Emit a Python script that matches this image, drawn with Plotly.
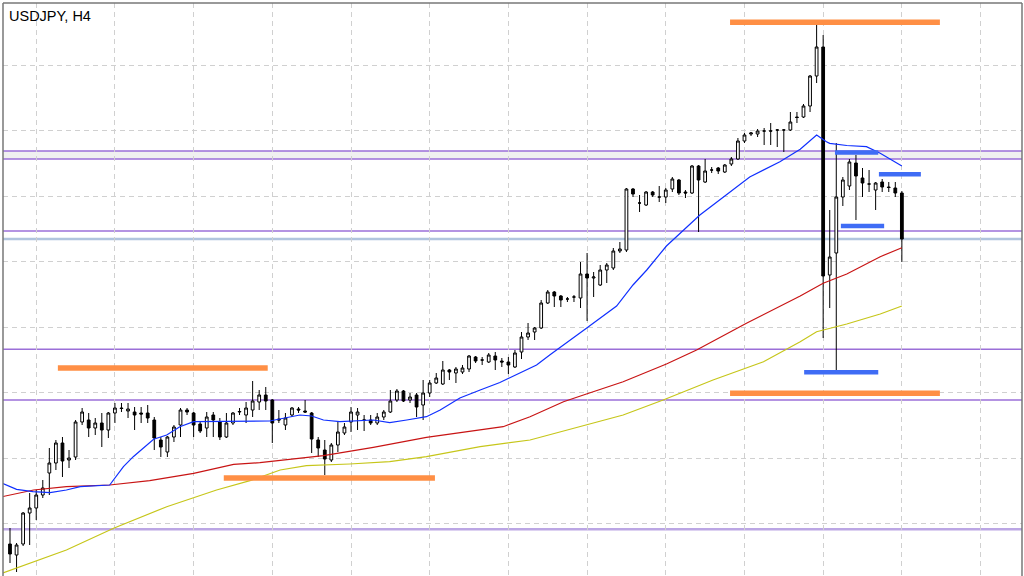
import plotly.graph_objects as go

# USDJPY H4 - ローソク足 (バー番号 0..136)
bar = list(range(137))
open_ = [145.56, 145.45, 145.56, 145.87, 145.92, 146.05, 146.27, 146.37, 146.57, 146.40,
         146.43, 146.78, 146.80, 146.72, 146.77, 146.70, 146.87, 146.92, 146.89, 146.88,
         146.87, 146.87, 146.80, 146.60, 146.48, 146.63, 146.75, 146.90, 146.87, 146.76,
         146.72, 146.85, 146.78, 146.63, 146.77, 146.88, 146.85, 146.90, 146.98, 147.05,
         147.00, 146.81, 146.75, 146.85, 146.91, 146.89, 146.87, 146.60, 146.50, 146.40,
         146.55, 146.67, 146.78, 146.85, 146.80, 146.80, 146.77, 146.83, 146.88, 147.00,
         147.09, 147.00, 147.05, 146.95, 147.07, 147.17, 147.16, 147.30, 147.27, 147.28,
         147.31, 147.43, 147.40, 147.38, 147.44, 147.39, 147.38, 147.33, 147.48, 147.63,
         147.68, 147.72, 147.97, 148.08, 148.04, 148.01, 148.03, 148.02, 148.26, 148.22,
         148.15, 148.30, 148.32, 148.49, 148.50, 149.11, 148.97, 148.95, 149.08, 149.03,
         149.03, 149.11, 149.20, 149.08, 149.07, 149.34, 149.18, 149.30, 149.32, 149.28,
         149.36, 149.41, 149.59, 149.66, 149.66, 149.69, 149.69, 149.70, 149.70, 149.70,
         149.83, 149.83, 149.94, 150.24, 150.53, 148.25, 148.47, 149.03, 149.14, 149.37,
         149.22, 149.16, 149.10, 149.18, 149.13, 149.12, 149.07]
high = [145.72, 145.57, 145.88, 146.07, 146.10, 146.20, 146.52, 146.60, 146.63, 146.50,
        146.80, 146.92, 146.87, 146.82, 146.87, 146.88, 146.97, 146.97, 146.97, 146.93,
        146.93, 146.95, 146.83, 146.63, 146.64, 146.75, 146.92, 146.92, 146.88, 146.78,
        146.88, 146.88, 146.82, 146.87, 146.88, 146.92, 146.98, 147.19, 147.10, 147.13,
        147.01, 146.90, 146.87, 146.93, 146.93, 147.00, 146.88, 146.63, 146.60, 146.57,
        146.78, 146.77, 146.93, 146.92, 146.85, 146.85, 146.87, 146.90, 147.10, 147.11,
        147.10, 147.07, 147.07, 147.20, 147.20, 147.27, 147.39, 147.31, 147.33, 147.35,
        147.45, 147.44, 147.43, 147.47, 147.48, 147.42, 147.43, 147.50, 147.68, 147.77,
        147.73, 148.00, 148.10, 148.09, 148.05, 148.03, 148.05, 148.38, 148.47, 148.28,
        148.35, 148.37, 148.52, 148.58, 149.12, 149.12, 149.05, 149.09, 149.09, 149.14,
        149.12, 149.23, 149.21, 149.10, 149.35, 149.35, 149.41, 149.33, 149.33, 149.36,
        149.43, 149.62, 149.67, 149.68, 149.71, 149.72, 149.77, 149.71, 149.71, 149.88,
        149.88, 149.96, 150.25, 150.75, 150.65, 148.90, 149.57, 149.23, 149.41, 149.45,
        149.32, 149.30, 149.18, 149.21, 149.18, 149.18, 149.09]
low = [145.37, 145.28, 145.54, 145.55, 145.80, 146.02, 146.05, 146.30, 146.23, 146.32,
       146.40, 146.75, 146.63, 146.65, 146.53, 146.62, 146.77, 146.88, 146.82, 146.70,
       146.77, 146.77, 146.50, 146.43, 146.43, 146.58, 146.63, 146.85, 146.63, 146.67,
       146.63, 146.63, 146.60, 146.62, 146.75, 146.85, 146.77, 146.83, 146.90, 146.90,
       146.57, 146.77, 146.70, 146.83, 146.87, 146.87, 146.47, 146.43, 146.25, 146.38,
       146.48, 146.65, 146.68, 146.70, 146.69, 146.75, 146.75, 146.80, 146.87, 146.98,
       146.98, 146.97, 146.83, 146.80, 147.03, 147.16, 147.15, 147.20, 147.17, 147.26,
       147.28, 147.37, 147.35, 147.37, 147.30, 147.33, 147.26, 147.32, 147.41, 147.60,
       147.60, 147.71, 147.96, 147.93, 147.93, 147.98, 147.98, 147.92, 147.79, 148.03,
       148.14, 148.17, 148.30, 148.47, 148.48, 149.03, 148.88, 148.94, 149.03, 148.98,
       148.97, 149.08, 149.05, 149.02, 149.06, 148.68, 149.17, 149.27, 149.26, 149.27,
       149.34, 149.40, 149.57, 149.64, 149.63, 149.55, 149.55, 149.53, 149.48, 149.69,
       149.77, 149.82, 149.88, 150.17, 147.62, 147.92, 147.30, 148.94, 149.10, 148.80,
       149.03, 149.08, 148.90, 149.08, 149.08, 149.03, 148.38]
close = [145.46, 145.55, 145.87, 145.92, 146.05, 146.12, 146.37, 146.57, 146.39, 146.42,
         146.78, 146.88, 146.72, 146.77, 146.70, 146.87, 146.92, 146.915, 146.91, 146.85,
         146.86, 146.82, 146.62, 146.53, 146.63, 146.73, 146.90, 146.88, 146.75, 146.69,
         146.83, 146.80, 146.63, 146.77, 146.87, 146.885, 146.92, 146.99, 147.05, 146.99,
         146.77, 146.80, 146.82, 146.92, 146.90, 146.88, 146.61, 146.52, 146.41, 146.55,
         146.68, 146.73, 146.88, 146.88, 146.80, 146.77, 146.83, 146.88, 146.99, 147.09,
         146.99, 147.03, 146.93, 147.07, 147.17, 147.22, 147.30, 147.28, 147.31, 147.32,
         147.44, 147.39, 147.40, 147.45, 147.40, 147.38, 147.35, 147.47, 147.63, 147.67,
         147.72, 147.97, 148.08, 148.04, 148.00, 148.01, 148.03, 148.26, 148.22, 148.23,
         148.30, 148.35, 148.49, 148.51, 149.11, 149.06, 148.97, 149.08, 149.05, 149.03,
         149.10, 149.21, 149.07, 149.07, 149.34, 149.20, 149.29, 149.30, 149.29, 149.35,
         149.41, 149.59, 149.65, 149.67, 149.69, 149.69, 149.69, 149.70, 149.70, 149.78,
         149.825, 149.94, 150.24, 150.53, 148.24, 148.43, 149.03, 149.20, 149.38, 149.24,
         149.17, 149.16, 149.17, 149.13, 149.125, 149.07, 148.61]

# 移動平均線
ma_fast_x = [-1.07, 1.0, 3.5, 6.1, 8.6, 10.7, 15.2, 16.0, 17.3, 18.8, 21.9, 23.9, 25.9, 28.0,
             31.5, 35.1, 39.6, 44.2, 46.0, 47.8, 50.3, 55.4, 57.9, 60.5, 63.5, 65.6, 68.6,
             71.7, 74.7, 80.3, 82.3, 87.9, 92.5, 95.0, 97.1, 100.1, 105.2, 112.8, 117.4,
             120.5, 123.0, 124.5, 125.0, 127.6, 130.6, 132.7, 136.0]
ma_fast_y = [146.165, 146.107, 146.083, 146.073, 146.10, 146.133, 146.15, 146.22, 146.333,
             146.433, 146.607, 146.65, 146.733, 146.783, 146.783, 146.79, 146.79, 146.85,
             146.84, 146.80, 146.783, 146.80, 146.773, 146.80, 146.833, 146.90, 147.02,
             147.10, 147.175, 147.35, 147.45, 147.717, 147.94, 148.15, 148.30, 148.54,
             148.85, 149.23, 149.383, 149.507, 149.65, 149.583, 149.567, 149.545, 149.533,
             149.467, 149.34]
ma_mid_x = [-1.07, 3.6, 8.6, 15.2, 21.3, 28.0, 34.1, 38.1, 47.8, 55.4, 63.5, 71.7, 75.2,
            79.3, 84.4, 87.9, 93.5, 100.1, 104.7, 112.3, 117.4, 120.5, 124.0, 127.6, 132.7, 136.0]
ma_mid_y = [146.035, 146.10, 146.133, 146.15, 146.193, 146.267, 146.357, 146.373, 146.443,
            146.527, 146.627, 146.70, 146.733, 146.833, 146.983, 147.06, 147.183, 147.36,
            147.50, 147.767, 147.933, 148.04, 148.167, 148.26, 148.433, 148.523]
ma_slow_x = [-1.07, 8.6, 15.8, 23.9, 31.5, 36.6, 41.2, 45.2, 51.8, 57.9, 63.5, 71.7, 79.3,
             87.9, 93.5, 99.6, 107.2, 114.9, 120.5, 123.0, 127.6, 132.7, 136.0]
ma_slow_y = [145.27, 145.50, 145.717, 145.933, 146.10, 146.193, 146.30, 146.343, 146.36,
             146.383, 146.433, 146.533, 146.60, 146.75, 146.85, 147.00, 147.20, 147.383,
             147.583, 147.683, 147.76, 147.86, 147.94]

# 水平線 (チャート全幅)
purple_levels = [149.49, 149.41, 148.69, 147.507, 147.00]
lavender_level = 145.707
steel_level = 148.61
zone_low, zone_high = 149.41, 149.49

# 部分的な水平線 (開始バー, 終了バー)
orange_levels = [150.777, 147.32, 146.22, 147.067]
orange_start = [109.8, 7.3, 32.6, 109.8]
orange_end = [141.8, 39.3, 64.8, 141.8]
blue_levels = [149.475, 149.257, 148.74, 147.277]
blue_start = [125.8, 132.5, 126.7, 121.1]
blue_end = [132.4, 138.9, 133.3, 132.4]

fig = go.Figure()

fig.add_trace(go.Candlestick(
    x=bar, open=open_, high=high, low=low, close=close,
    increasing=dict(fillcolor='white', line=dict(color='black', width=1)),
    decreasing=dict(fillcolor='black', line=dict(color='black', width=1)),
    whiskerwidth=0, hoverinfo='skip', showlegend=False
))

for xs, ys, col in [(ma_slow_x, ma_slow_y, '#c6c61a'),
                    (ma_mid_x, ma_mid_y, '#c81414'),
                    (ma_fast_x, ma_fast_y, '#1030ff')]:
    fig.add_trace(go.Scatter(x=xs, y=ys, mode='lines', line=dict(color=col, width=1.2),
                             hoverinfo='skip', showlegend=False))

shapes = []
shapes.append(dict(type='rect', xref='paper', x0=0, x1=1, y0=zone_low, y1=zone_high,
                   fillcolor='#f0f0f0', line_width=0, layer='below'))
for lv in purple_levels:
    shapes.append(dict(type='line', xref='paper', x0=0, x1=1, y0=lv, y1=lv,
                       line=dict(color='#9b6fd8', width=1.5), layer='below'))
shapes.append(dict(type='line', xref='paper', x0=0, x1=1, y0=lavender_level, y1=lavender_level,
                   line=dict(color='#bba6e4', width=2.5), layer='below'))
shapes.append(dict(type='line', xref='paper', x0=0, x1=1, y0=steel_level, y1=steel_level,
                   line=dict(color='#b0c4de', width=2.5), layer='below'))
for lv, a, b in zip(orange_levels, orange_start, orange_end):
    shapes.append(dict(type='line', x0=a, x1=b, y0=lv, y1=lv,
                       line=dict(color='#ff8f45', width=5.5)))
for lv, a, b in zip(blue_levels, blue_start, blue_end):
    shapes.append(dict(type='line', x0=a, x1=b, y0=lv, y1=lv,
                       line=dict(color='#3f6cf5', width=4.5)))
# 枠線 (左・上・右)
for x0, y0, x1, y1 in [(0, 0, 0, 1), (0, 1, 1, 1), (1, 0, 1, 1)]:
    shapes.append(dict(type='line', xref='paper', yref='paper', x0=x0, y0=y0, x1=x1, y1=y1,
                       line=dict(color='#777777', width=1.5)))

fig.update_layout(
    width=1024, height=576,
    margin=dict(l=3, r=2, t=3, b=0),
    paper_bgcolor='white', plot_bgcolor='white',
    boxgap=0.4,
    shapes=shapes,
    annotations=[dict(text='USDJPY, H4', xref='paper', yref='paper', x=0.004, y=0.978,
                      xanchor='left', yanchor='middle', showarrow=False,
                      font=dict(family='Liberation Sans, Arial, sans-serif', size=14.5, color='black'))],
    xaxis=dict(range=[-1.067, 154.32], showticklabels=False, rangeslider=dict(visible=False),
               tick0=4, dtick=12, showgrid=True, gridcolor='#d0d0d0', griddash='5px,4px',
               gridwidth=1, zeroline=False, ticks=''),
    yaxis=dict(range=[145.24, 150.97], showticklabels=False, tick0=150.35, dtick=0.6557,
               showgrid=True, gridcolor='#d0d0d0', griddash='5px,4px', gridwidth=1,
               zeroline=False, ticks=''),
)

# ページ余白を消して 1024x576 にぴったり合わせる
fig.write_html("out.html", config={'displayModeBar': False},
               post_script="document.body.style.margin='0';")
